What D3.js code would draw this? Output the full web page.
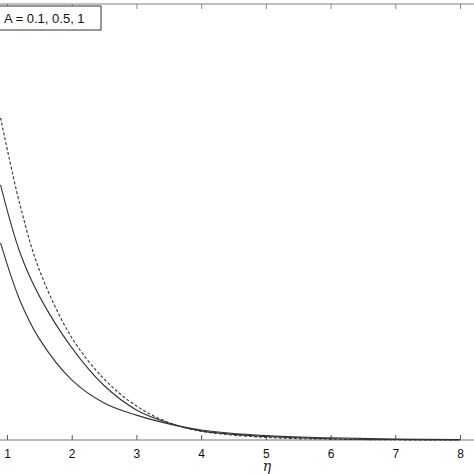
<!DOCTYPE html><html><head><script src="https://cdn.jsdelivr.net/npm/d3@7"></script>
<style>body{margin:0;background:#fff}</style></head><body><svg id="c" width="474" height="474"></svg><script>
const xTicks=[1,2,3,4,5,6,7,8];
const xs=[0.9,1.2,1.5,2,2.5,3,3.5,4,5,6,7,8];
const valsA=[0.452,0.32,0.232,0.138,0.085,0.057,0.037,0.023,0.010,0.005,0.002,0.001];
const valsB=[0.585,0.43,0.33,0.212,0.125,0.069,0.039,0.021,0.008,0.003,0.001,0.0];
const valsC=[0.739,0.54,0.39,0.235,0.14,0.078,0.04,0.020,0.006,0.002,0.0005,0.0];
const legendText="A = 0.1, 0.5, 1";
const svg=d3.select("#c");
const x=d3.scaleLinear().domain([1,8]).range([7,460]);
const y=d3.scaleLinear().domain([0,1]).range([440,4]);
const g=svg.append("g");
g.append("line").attr("x1",0).attr("x2",474).attr("y1",y(1)).attr("y2",y(1)).attr("stroke","#aaa").attr("stroke-width",1.5);
const ax=g.append("g").attr("transform",`translate(0,${y(0)})`).call(d3.axisBottom(x).tickValues(xTicks).tickSizeInner(-5).tickSizeOuter(0).tickPadding(9).tickFormat(d3.format("d")));
ax.select(".domain").remove();
ax.append("line").attr("x1",0).attr("x2",474).attr("stroke","#777").attr("stroke-width",1.2);
ax.selectAll(".tick line").attr("stroke","#555");
ax.selectAll("text").attr("font-family","Liberation Sans, Arial").attr("font-size",12).attr("fill","#111");
const axT=g.append("g").attr("transform",`translate(0,${y(1)})`).call(d3.axisTop(x).tickValues(xTicks).tickSizeInner(-5).tickSizeOuter(0).tickFormat(""));
axT.select(".domain").remove();axT.selectAll(".tick line").attr("stroke","#888");
svg.append("text").attr("x",267).attr("y",471).attr("text-anchor","middle").attr("font-family","DejaVu Serif, serif").attr("font-style","italic").attr("font-size",14).attr("fill","#222").text("η");
const line=d3.line().x(d=>x(d[0])).y(d=>y(d[1])).curve(d3.curveCatmullRom);
const series=[[valsA,null],[valsB,null],[valsC,"3,2"]];
series.forEach(([vs,dash])=>{
 g.append("path").datum(xs.map((v,i)=>[v,vs[i]])).attr("d",line).attr("fill","none").attr("stroke","#333").attr("stroke-width",1.1).attr("stroke-dasharray",dash);
});
svg.append("rect").attr("x",-1).attr("y",6).attr("width",102).attr("height",24).attr("fill","#fff").attr("stroke","#333").attr("stroke-width",1);
svg.append("text").attr("x",4).attr("y",23).attr("font-family","Liberation Sans, Arial").attr("font-size",13).attr("fill","#111").text(legendText);
</script></body></html>
